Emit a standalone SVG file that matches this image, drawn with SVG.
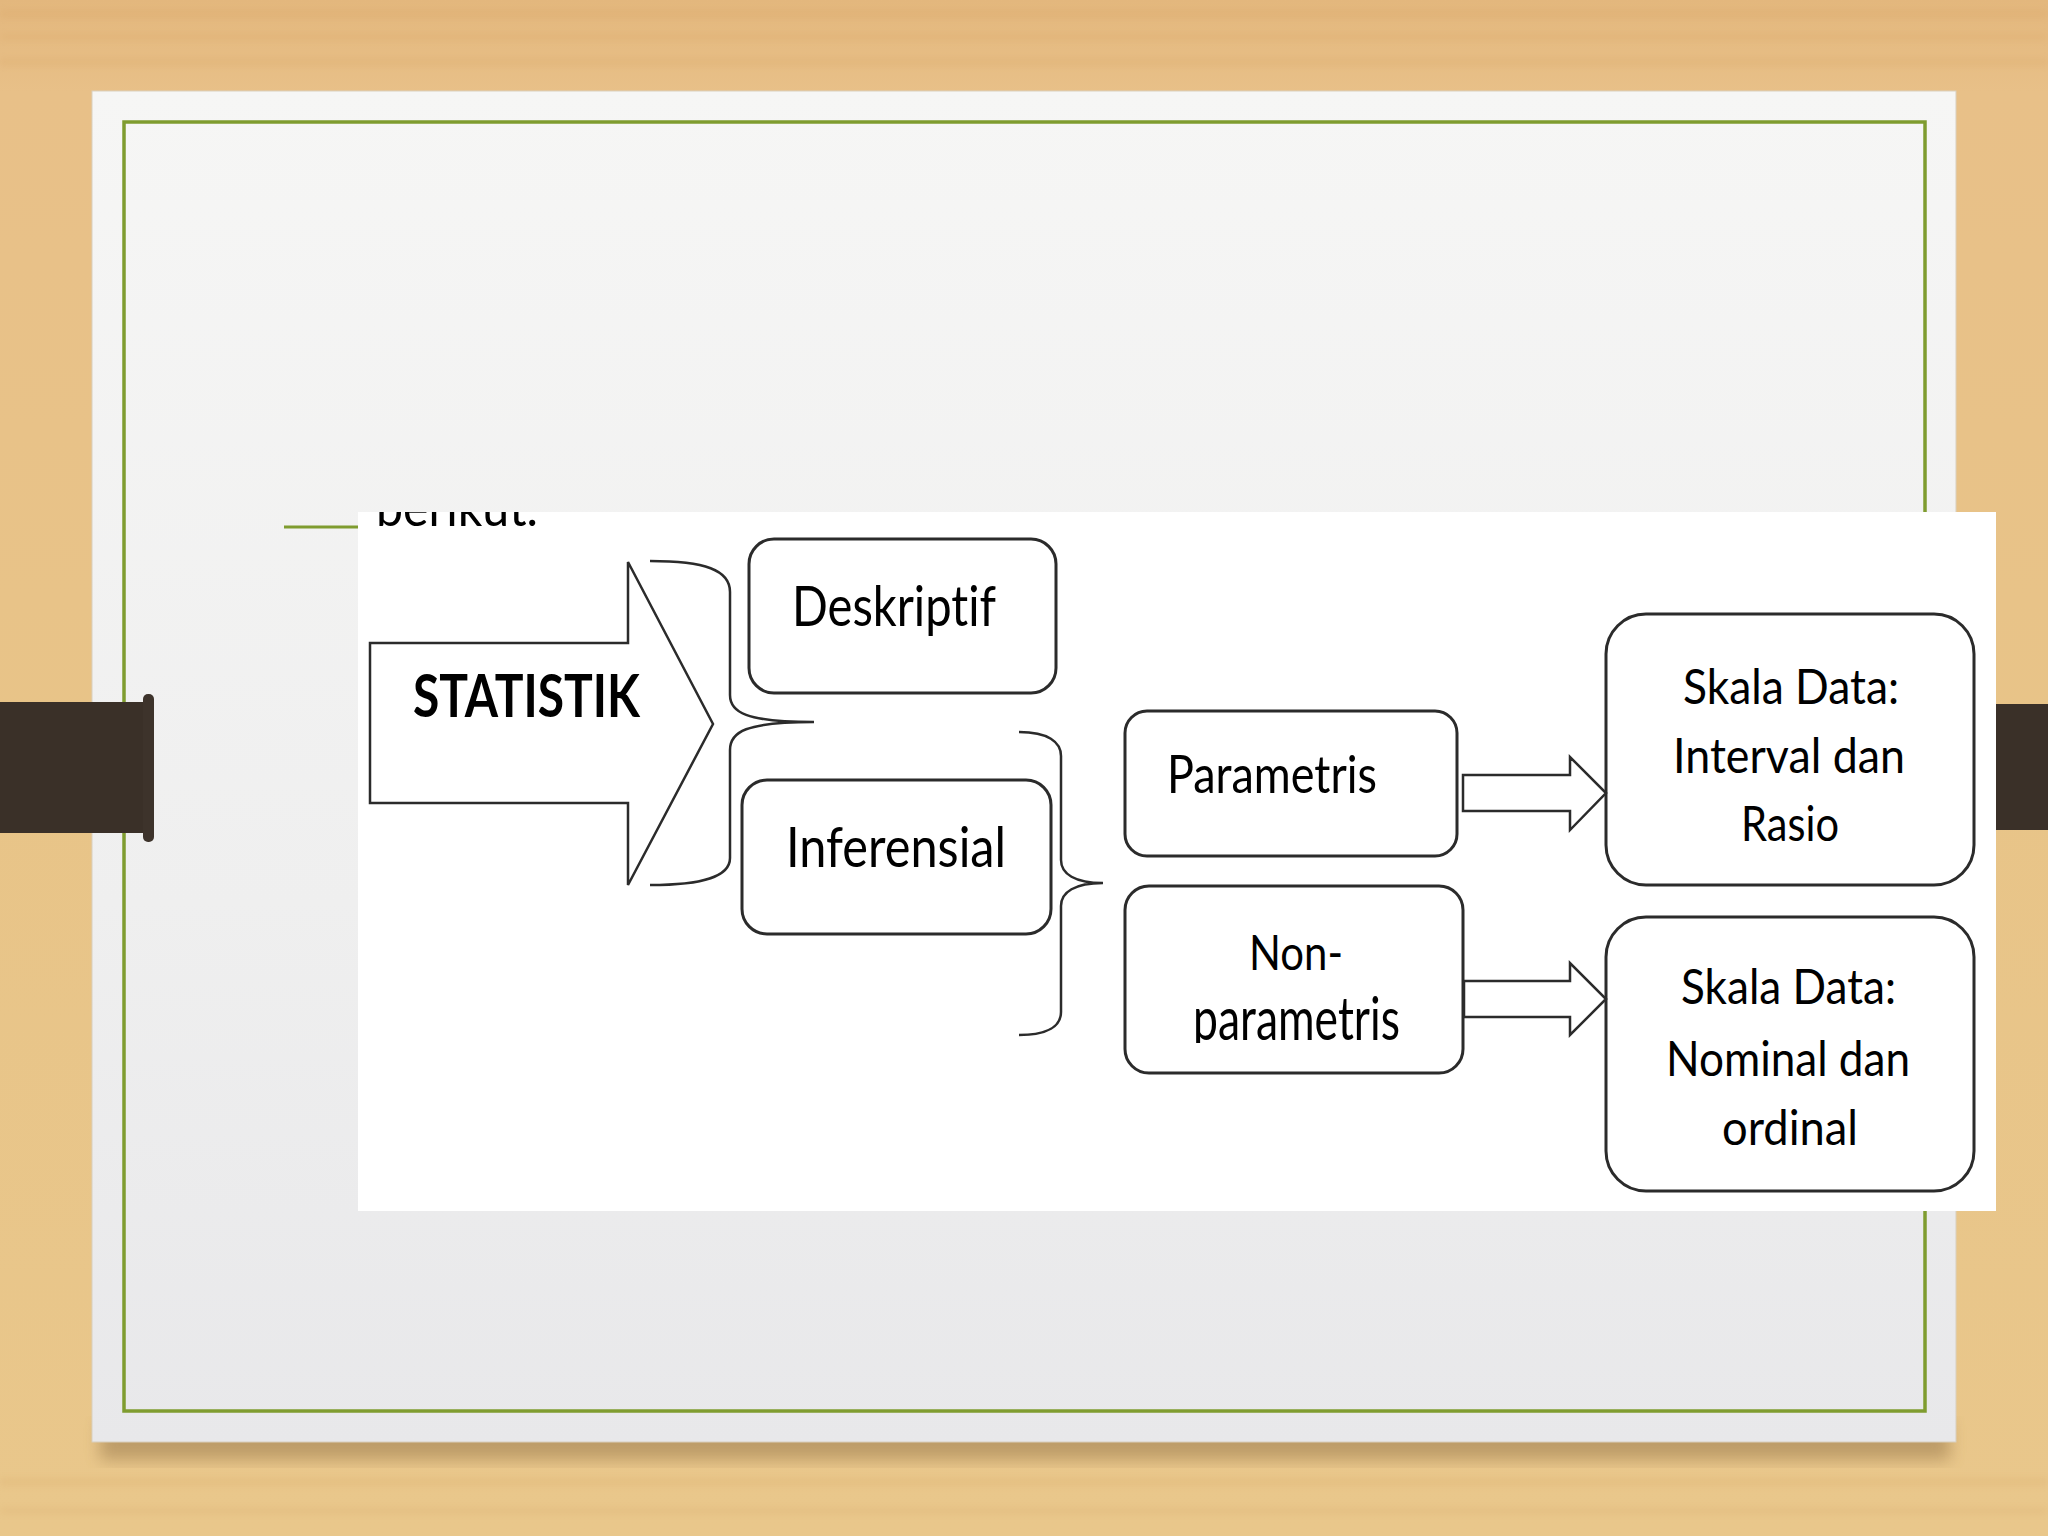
<svg xmlns="http://www.w3.org/2000/svg" width="2048" height="1536" viewBox="0 0 2048 1536">
  <defs>
    <linearGradient id="wood" x1="0" y1="0" x2="0" y2="1">
      <stop offset="0" stop-color="#e3b77d"/>
      <stop offset="0.06" stop-color="#e8c088"/>
      <stop offset="0.5" stop-color="#e8c488"/>
      <stop offset="1" stop-color="#e9c78b"/>
    </linearGradient>
    <linearGradient id="card" x1="0" y1="0" x2="0" y2="1">
      <stop offset="0" stop-color="#f6f6f5"/>
      <stop offset="0.6" stop-color="#efefef"/>
      <stop offset="1" stop-color="#e8e8ea"/>
    </linearGradient>
    <filter id="blur" x="-10%" y="-10%" width="120%" height="130%">
      <feGaussianBlur stdDeviation="8"/>
    </filter>
    <filter id="soft" x="-5%" y="-50%" width="110%" height="200%">
      <feGaussianBlur stdDeviation="3"/>
    </filter>
    <clipPath id="imgClip">
      <rect x="358" y="512" width="1638" height="699"/>
    </clipPath>
    <clipPath id="npClip">
      <rect x="1125" y="886" width="338" height="157"/>
    </clipPath>
    <style>
      .lbl { font-family: Lato, "Liberation Sans", "Noto Sans", sans-serif; fill: #000; font-variant-ligatures: none; }
      .box { fill: #fff; stroke: #2b2b2b; stroke-width: 3; }
      .con { fill: none; stroke: #2b2b2b; stroke-width: 2.5; stroke-linejoin: miter; }
      .blk { fill: #fff; stroke: #2b2b2b; stroke-width: 2.5; stroke-linejoin: miter; }
    </style>
  </defs>

  <!-- wood background -->
  <rect x="0" y="0" width="2048" height="1536" fill="url(#wood)"/>
  <g opacity="0.12" fill="#c98f4a" filter="url(#soft)">
    <rect x="0" y="10" width="2048" height="8"/>
    <rect x="0" y="34" width="2048" height="6"/>
    <rect x="0" y="58" width="2048" height="8"/>
    <rect x="0" y="1478" width="2048" height="8"/>
    <rect x="0" y="1508" width="2048" height="6"/>
  </g>

  <!-- slide card -->
  <rect x="100" y="1420" width="1850" height="40" fill="#8a6a40" opacity="0.45" filter="url(#blur)"/>
  <rect x="92" y="91" width="1864" height="1351" fill="url(#card)" stroke="#d9cfbd" stroke-width="1"/>
  <rect x="124" y="122" width="1801" height="1289" fill="none" stroke="#7f9c2f" stroke-width="3.5"/>
  <line x1="284" y1="527" x2="360" y2="527" stroke="#7f9c2f" stroke-width="3"/>

  <!-- binder bars -->
  <rect x="0" y="702" width="150" height="131" fill="#3a3028"/>
  <rect x="143" y="694" width="11" height="148" rx="5" fill="#3d332b"/>
  <rect x="1996" y="704" width="52" height="126" fill="#3a3028"/>

  <!-- pasted diagram image -->
  <rect x="358" y="512" width="1638" height="699" fill="#ffffff"/>
  <g clip-path="url(#imgClip)">
    <text class="lbl" x="376" y="526" font-size="50" textLength="162" lengthAdjust="spacingAndGlyphs">berikut.</text>
  </g>

  <!-- nodes -->
  <g id="node-statistik">
    <polygon class="blk" points="370,643 628,643 628,562 713,724 628,885 628,803 370,803"/>
    <text class="lbl" x="413" y="717" font-size="60" font-weight="700" textLength="227" lengthAdjust="spacingAndGlyphs">STATISTIK</text>
  </g>
  <g id="node-deskriptif">
    <rect class="box" x="749" y="539" width="307" height="154" rx="25"/>
    <text class="lbl" x="792" y="626" font-size="56" textLength="204" lengthAdjust="spacingAndGlyphs">Deskriptif</text>
  </g>
  <g id="node-inferensial">
    <rect class="box" x="742" y="780" width="309" height="154" rx="25"/>
    <text class="lbl" x="786" y="867" font-size="56" textLength="220" lengthAdjust="spacingAndGlyphs">Inferensial</text>
  </g>
  <g id="node-parametris">
    <rect class="box" x="1125" y="711" width="332" height="145" rx="22"/>
    <text class="lbl" x="1167" y="793" font-size="52" textLength="210" lengthAdjust="spacingAndGlyphs">Parametris</text>
  </g>
  <g id="node-nonparametris">
    <rect class="box" x="1125" y="886" width="338" height="187" rx="24"/>
    <text class="lbl" x="1249" y="970" font-size="49" textLength="94" lengthAdjust="spacingAndGlyphs">Non-</text>
    <g clip-path="url(#npClip)">
      <text class="lbl" x="1193" y="1040" font-size="60" textLength="207" lengthAdjust="spacingAndGlyphs">parametris</text>
    </g>
  </g>
  <g id="node-skala-interval">
    <rect class="box" x="1606" y="614" width="368" height="271" rx="40"/>
    <text class="lbl" x="1683" y="704" font-size="49" textLength="216" lengthAdjust="spacingAndGlyphs">Skala Data:</text>
    <text class="lbl" x="1673" y="773" font-size="48" textLength="232" lengthAdjust="spacingAndGlyphs">Interval dan</text>
    <text class="lbl" x="1741" y="841" font-size="48" textLength="98" lengthAdjust="spacingAndGlyphs">Rasio</text>
  </g>
  <g id="node-skala-nominal">
    <rect class="box" x="1606" y="917" width="368" height="274" rx="40"/>
    <text class="lbl" x="1681" y="1004" font-size="49" textLength="215" lengthAdjust="spacingAndGlyphs">Skala Data:</text>
    <text class="lbl" x="1666" y="1076" font-size="48" textLength="244" lengthAdjust="spacingAndGlyphs">Nominal dan</text>
    <text class="lbl" x="1722" y="1145" font-size="48" textLength="136" lengthAdjust="spacingAndGlyphs">ordinal</text>
  </g>

  <!-- connectors -->
  <g id="connectors">
    <path class="con" d="M650,561 C705,561 730,570 730,592 L730,695 C730,712 745,722 814,722 C745,722 730,732 730,750 L730,858 C730,876 705,885 650,885"/>
    <path class="con" d="M1019,732 C1048,732 1061,742 1061,756 L1061,860 C1061,874 1075,883 1103,883 C1075,883 1061,892 1061,906 L1061,1012 C1061,1026 1048,1035 1019,1035"/>
    <polygon class="blk" points="1463,775 1570,775 1570,757 1606,793 1570,830 1570,811 1463,811"/>
    <polygon class="blk" points="1464,981 1570,981 1570,963 1606,999 1570,1035 1570,1017 1464,1017"/>
  </g>
</svg>
